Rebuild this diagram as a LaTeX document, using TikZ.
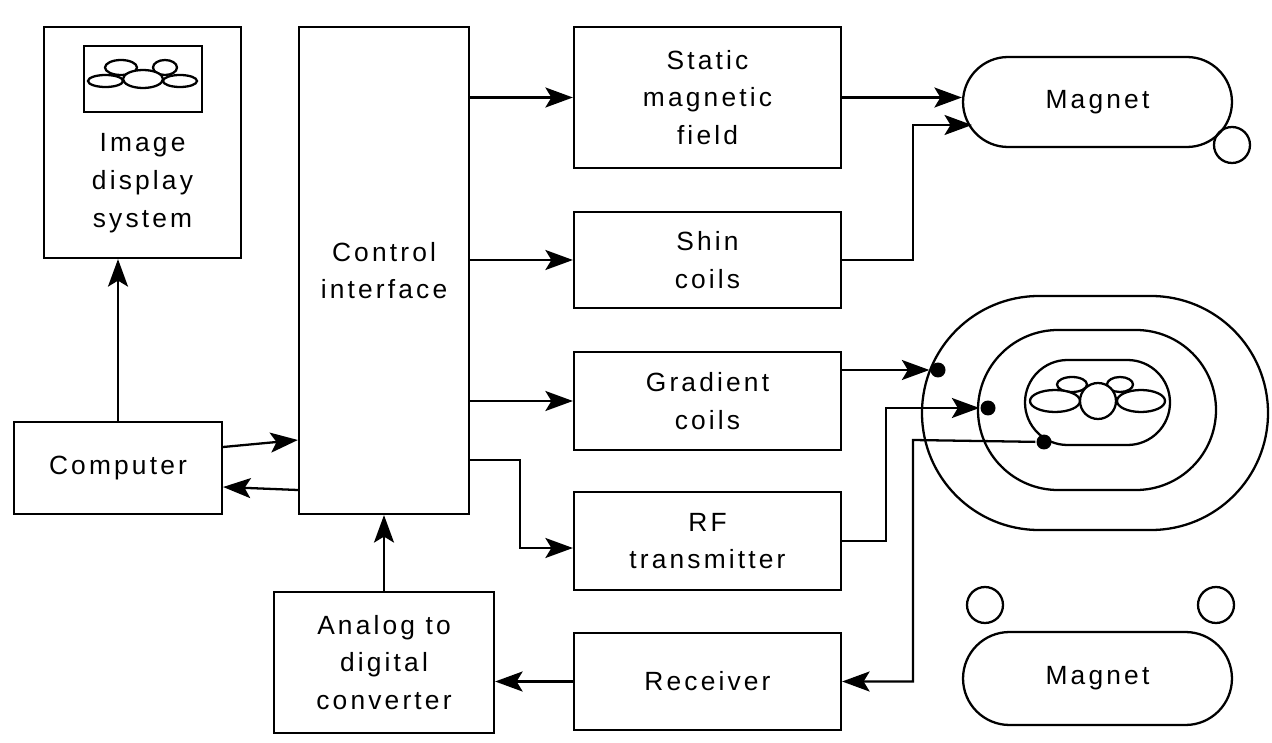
\documentclass[tikz,border=0pt]{standalone}
\usepackage{fontspec}
\setmainfont{Liberation Sans}[LetterSpace=12]
\usetikzlibrary{arrows.meta}
\begin{document}
\begin{tikzpicture}[x=0.02cm,y=-0.02cm,line width=1.3pt,
  txt/.style={align=center,inner sep=0pt,font=\fontsize{15}{21.5}\selectfont},
  box/.style={draw,txt},
  arr/.style={-{Stealth[length=0.55cm,width=0.4cm,inset=0.12cm]}},
  dot/.style={circle,fill,inner sep=0pt,minimum size=0.3cm}]
\useasboundingbox (0,0) rectangle (1272,743);
% blocks
\node[box,minimum width=3.94cm,minimum height=4.62cm] (disp) at (142.5,142.5) {};
\node[txt] (disptxt) at (142.5,183) {Image\\display\\system};
\draw (84,46) rectangle (202,112);
\foreach \cx/\cy/\rx/\ry in {105.5/81/17.5/6, 180/81/17/6, 121/67.5/16/7.5, 165/67.5/12/7.5, 143/79/20/9}
  \draw[fill=white] (\cx,\cy) ellipse [x radius=\rx, y radius=\ry];
\node[box,minimum width=3.4cm,minimum height=9.74cm] (ctrl) at (384,270.5) {Control\\interface};
\node[box,minimum width=5.34cm,minimum height=2.82cm] (static) at (707.5,97.5) {Static\\magnetic\\field};
\node[box,minimum width=5.34cm,minimum height=1.92cm] (shin) at (707.5,260) {Shin\\coils};
\node[box,minimum width=5.34cm,minimum height=1.96cm] (grad) at (707.5,401) {Gradient\\coils};
\node[box,minimum width=5.34cm,minimum height=1.96cm] (rf) at (707.5,541) {RF\\transmitter};
\node[box,minimum width=5.34cm,minimum height=1.94cm] (recv) at (707.5,681.5) {Receiver};
\node[box,minimum width=4.4cm,minimum height=2.82cm] (adc) at (384,662.5) {Analog to\\digital\\converter};
\node[box,minimum width=4.16cm,minimum height=1.84cm] (comp) at (118,468) {Computer};
% magnets
\node[box,rounded corners=0.9cm,minimum width=5.38cm,minimum height=1.8cm] (magt) at (1097.5,102) {Magnet};
\node[box,rounded corners=0.93cm,minimum width=5.38cm,minimum height=1.86cm] (magb) at (1097.5,678.5) {Magnet};
\draw (1232,145) circle [radius=18];
\draw (985,605) circle [radius=18];
\draw (1216,605) circle [radius=18];
% bore
\draw[rounded corners=2.34cm] (922,296) rectangle (1268,530);
\draw[rounded corners=1.6cm] (978,330) rectangle (1216,490);
\draw[rounded corners=0.85cm] (1025,360) rectangle (1170,445);
\foreach \cx/\cy/\rx/\ry in {1072/384.5/15/7.5, 1120/384.5/13/7.5, 1055/401/25/11, 1141/401/24/11}
  \draw[fill=white] (\cx,\cy) ellipse [x radius=\rx, y radius=\ry];
\draw[fill=white] (1098,401) circle [radius=18];
\node[dot] (dg) at (938,370) {};
\node[dot] (dr) at (988,408) {};
\node[dot] (dx) at (1044,442) {};
\coordinate (ms) at (972,125);
% connectors
\draw[arr] (ctrl.east |- static.west) -- (static.west);
\draw[arr] (static.east) -- (magt.west |- static.east);
\draw[arr] (ctrl.east |- shin.west) -- (shin.west);
\draw[arr] (shin.east) -| (913,125) -- (ms);
\draw[arr] (ctrl.east |- grad.west) -- (grad.west);
\draw[arr] (grad.east |- dg) -- (dg);
\draw[arr] (ctrl.east |- 0,460) -| (520,548) -- (rf.west |- 0,548);
\draw[arr] (rf.east) -| (886,408) -- (dr);
\draw[arr] (dx) -- (913,440) |- (recv.east);
\draw[arr] (recv.west) -- (adc.east |- recv.west);
\draw[arr] (adc.north) -- (ctrl.south);
\draw[arr] (comp.north) -- (disp.south -| comp.north);
\draw[arr] (comp.east |- 0,447) -- (ctrl.west |- 0,440);
\draw[arr] (ctrl.west |- 0,490) -- (comp.east |- 0,487);
\end{tikzpicture}
\end{document}
